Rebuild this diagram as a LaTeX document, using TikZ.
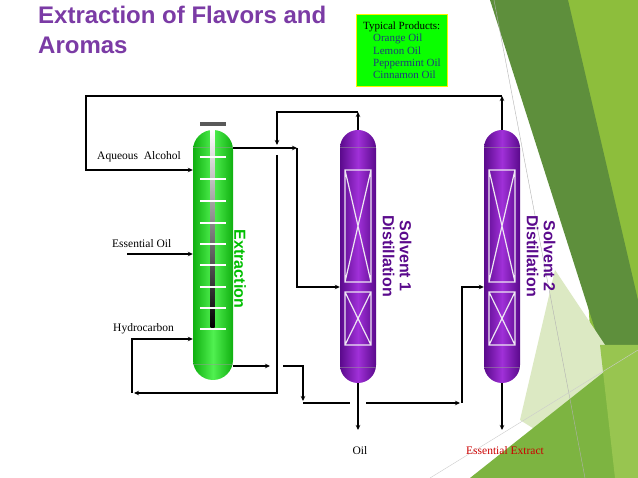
\documentclass[tikz,border=0pt]{standalone}
\usepackage{fontspec}
\setmainfont{Liberation Serif}
\newfontfamily\sans{Liberation Sans}
\usetikzlibrary{arrows.meta}
\definecolor{ttl}{HTML}{7B3BA5}
\definecolor{pur}{HTML}{5A0A8C}
\definecolor{purm}{HTML}{A030D8}
\definecolor{navy}{HTML}{1F3A7A}
\definecolor{gdk}{HTML}{5E8F3C}
\definecolor{glt}{HTML}{8DBE3C}
\definecolor{gpl}{HTML}{DCE9C3}
\definecolor{gmd}{HTML}{7DB441}
\definecolor{gcol}{HTML}{10B010}
\definecolor{gmid}{HTML}{50F050}
\begin{document}
\begin{tikzpicture}[x=1pt,y=-1pt,
 ln/.style={black,line width=1.4pt},
 ar/.style={ln,-{Stealth[length=5pt,width=4.5pt]}},
 lbl/.style={font=\fontsize{11.5}{13}\selectfont,inner sep=0pt},
 grn/.style={draw=none,rounded corners=20pt,minimum width=40pt,minimum height=250pt,
   left color=gcol,right color=gcol,middle color=gmid,inner sep=0pt},
 prp/.style={draw=none,rounded corners=18pt,minimum width=36pt,minimum height=253pt,
   left color=pur,right color=pur,middle color=purm,inner sep=0pt},
 pack/.style={draw=white!90!pur,line width=1.2pt},
 vlab/.style={rotate=-90,font=\sans\bfseries\fontsize{16}{17}\selectfont,align=center,inner sep=0pt}]
\useasboundingbox (0,0) rectangle (638,478);
% background
\fill[white] (0,0) rectangle (638,478);
\fill[glt] (568,0)--(638,0)--(638,478)--(600,478)--cycle;
\fill[gdk] (490,0)--(568,0)--(638,300)--(638,345)--(600,345)--cycle;
\fill[gpl] (555,270)--(605,345)--(612,478)--(520,420)--cycle;
\fill[gmd] (470,478)--(638,345)--(638,478)--cycle;
\fill[glt!90!white] (600,345)--(638,345)--(638,478)--(615,478)--cycle;
\draw[gray!60,line width=0.4pt] (494,0)--(585,478);
\draw[gray!40,line width=0.4pt] (430,478)--(638,350);
% title
\node[anchor=north west,align=left,text=ttl,font=\sans\bfseries\fontsize{24}{30}\selectfont,inner sep=0pt] (title) at (38,6) {Extraction of Flavors and\\Aromas};
% products box
\node[anchor=north west,fill=green!95!lime,draw=yellow,line width=0.8pt,align=left,
  font=\fontsize{11}{12.3}\selectfont,inner sep=3pt,minimum width=91pt,minimum height=72pt] (prod) at (356,14)
 {Typical Products:\\\hspace*{10pt}\textcolor{navy}{Orange Oil}\\\hspace*{10pt}\textcolor{navy}{Lemon Oil}\\\hspace*{10pt}\textcolor{navy}{Peppermint Oil}\\\hspace*{10pt}\textcolor{navy}{Cinnamon Oil}};
% columns
\node[grn] (ex) at (213,255) {};
\node[prp] (s1) at (358,256.5) {};
\node[prp] (s2) at (502,256.5) {};
\foreach \c/\w in {ex/20,s1/18,s2/18}{
 \draw[black!40,line width=0.6pt,opacity=0.5] ([xshift=-\w pt,yshift=-18pt]\c.north) -- ([xshift=\w pt,yshift=-18pt]\c.north);
 \draw[black!40,line width=0.6pt,opacity=0.5] ([xshift=-\w pt,yshift=16pt]\c.south) -- ([xshift=\w pt,yshift=16pt]\c.south);
}
% extraction internals
\fill[gray!70!black] (200,122) rectangle (226,126);
\shade[top color=white,bottom color=black] (210.5,130) rectangle (214.5,328);
\foreach \y in {157,179,201,223,244,265,287,308,329}
 \draw[white,line width=1.2pt] (200,\y) -- (226,\y);
\node[vlab,text=green!75!black] (exl) at (240,269) {Extraction};
% packings
\foreach \c/\x in {s1/358,s2/502}{
 \draw[pack] (\x-13,170) rectangle (\x+13,282) (\x-13,170)--(\x+13,282) (\x+13,170)--(\x-13,282);
 \draw[pack] (\x-13,292) rectangle (\x+13,345) (\x-13,292)--(\x+13,345) (\x+13,292)--(\x-13,345);
}
\node[vlab,text=pur] (s1l) at (397,256) {Solvent 1\\Distillation};
\node[vlab,text=pur] (s2l) at (541,256) {Solvent 2\\Distillation};
% labels
\node[lbl,anchor=west] (aq) at (97,157) {Aqueous\ \ Alcohol};
\node[lbl,anchor=west] (eo) at (112,244) {Essential Oil};
\node[lbl,anchor=west] (hc) at (113,329) {Hydrocarbon};
\node[lbl] (oil) at (360,451) {Oil};
\node[lbl,text=red!80!black] (ee) at (505,451) {Essential Extract};
% coordinates
\coordinate (c1) at (86,96);
\coordinate (c2) at (127,254);
% connectors
\draw[ar] (s2.north) -- (502,96);
\draw[ar] (502,96) -- (c1) -- (86,170) -- (ex.west |- 0,170);
\draw[ar] (c2) -- (ex.west |- c2);
\draw[ar] (s1.north) -- (358,112);
\draw[ar] (358,112) -- (277,112) -- (277,145);
\draw[ar] (277,155) -- (277,393) -- (134,393);
\draw[ar] (132,393) -- (132,339) -- (ex.west |- 0,339);
\draw[ar] (ex.east |- 0,148) -- (297,148);
\draw[ar] (297,148) -- (297,287) -- (s1.west |- 0,287);
\draw[ar] (ex.east |- 0,366) -- (270,366);
\draw[ar] (283,366) -- (303,366) -- (303,401);
\draw[ln] (303,403) -- (350,403);
\draw[ar] (366,403) -- (460,403);
\draw[ar] (462,403) -- (462,287) -- (s2.west |- 0,287);
\draw[ar] (s1.south) -- (358,430);
\draw[ar] (s2.south) -- (502,430);
\end{tikzpicture}
\end{document}
